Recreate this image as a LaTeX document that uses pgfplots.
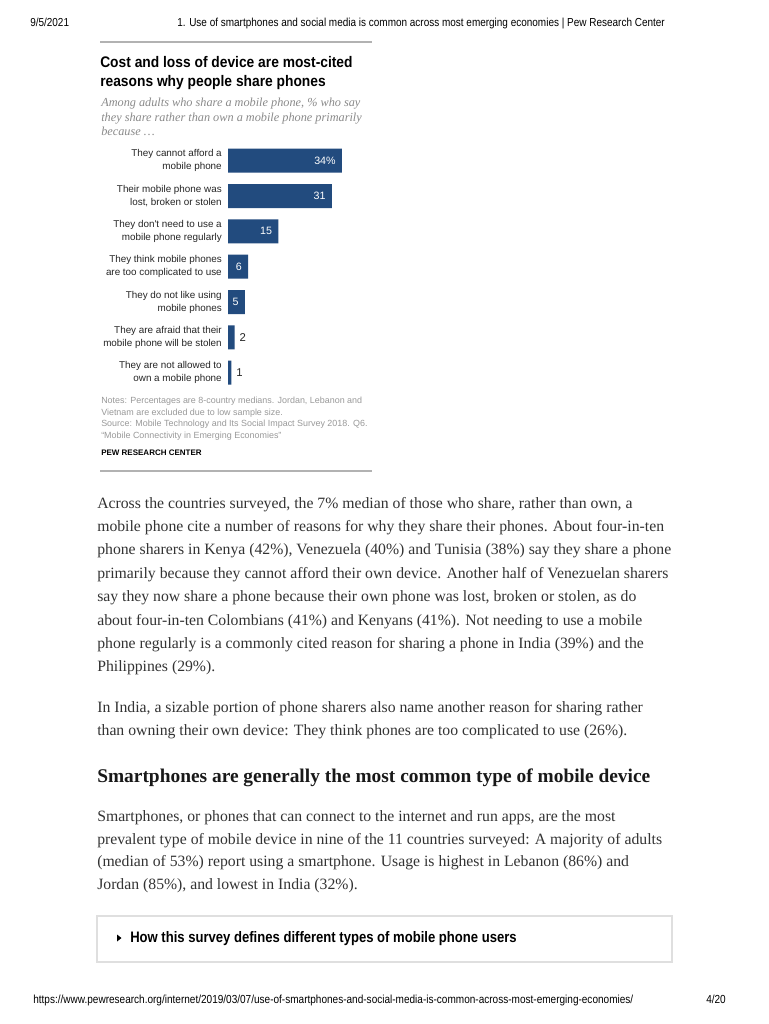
\documentclass[border=0pt]{standalone}
\usepackage{pgfplots}
\pgfplotsset{compat=1.18}
\usepackage{fontspec}
\setmainfont{Liberation Serif}
\newfontfamily\sans{Liberation Sans}
\newfontfamily\sansn[FakeStretch=0.86]{Liberation Sans}
\newfontfamily\sanst[FakeStretch=0.9]{Liberation Sans}
\definecolor{pewblue}{HTML}{224B7E}
\definecolor{bodytext}{HTML}{333333}
\definecolor{subgray}{HTML}{8A8A8A}
\definecolor{notegray}{HTML}{999999}
\newcommand\T[4][]{\node[anchor=base west,inner sep=0pt,#1] at (#2,#3) {#4};}
\begin{document}
\begin{tikzpicture}[x=0.75pt,y=-0.75pt]
\fill[white] (0,0) rectangle (768,1024);
\path[use as bounding box] (0,0) rectangle (768,1024);
% header
\T[font=\sansn\fontsize{8.7}{10}\selectfont]{30}{26.5}{9/5/2021}
\T[font=\sansn\fontsize{8.7}{10}\selectfont]{177}{26.5}{1. Use of smartphones and social media is common across most emerging economies | Pew Research Center}
% rules
\draw[gray!60,line width=0.9pt] (100,42) -- (372,42);
\draw[gray!60,line width=0.9pt] (100,471) -- (372,471);
% chart title
\T[font=\sanst\bfseries\fontsize{11.5}{12}\selectfont]{100}{67.5}{Cost and loss of device are most-cited}
\T[font=\sanst\bfseries\fontsize{11.5}{12}\selectfont]{100}{87}{reasons why people share phones}
\T[font=\itshape\fontsize{9.2}{11}\selectfont,text=subgray]{101}{107}{Among adults who share a mobile phone, \% who say}
\T[font=\itshape\fontsize{9.2}{11}\selectfont,text=subgray]{101}{121}{they share rather than own a mobile phone primarily}
\T[font=\itshape\fontsize{9.2}{11}\selectfont,text=subgray]{101}{135}{because \dots}
% chart
\begin{axis}[at={(171pt,-107.25pt)}, anchor=north west,
  scale only axis, width=113.06pt, height=185.5pt,
  xbar, bar width=18pt, bar shift=0pt,
  xmin=0, xmax=45, ymin=-0.5, ymax=6.5, y dir=reverse,
  axis line style={draw=none}, major tick length=0pt,
  xtick=\empty, ytick={0,1,2,3,4,5,6},
  yticklabels={{They cannot afford a\\mobile phone},{Their mobile phone was\\lost, broken or stolen},{They don't need to use a\\mobile phone regularly},{They think mobile phones\\are too complicated to use},{They do not like using\\mobile phones},{They are afraid that their\\mobile phone will be stolen},{They are not allowed to\\own a mobile phone}},
  yticklabel style={align=right, inner sep=0pt, xshift=-4.5pt, text=black!85, font=\sans\fontsize{7.4}{9.75}\selectfont},
  clip=false, point meta=explicit symbolic, nodes near coords]
\addplot[fill=pewblue, draw=none, nodes near coords style={anchor=east, inner sep=0pt, xshift=-4.5pt, text=white, font=\sans\fontsize{8}{9}\selectfont}]
  coordinates {(34,0) [34\%] (31,1) [31] (15,2) [15] (6,3) [6] (5,4) [5]};
\addplot[fill=pewblue, draw=none, nodes near coords style={anchor=west, inner sep=0pt, xshift=3.5pt, text=black!85, font=\sans\fontsize{8.5}{9}\selectfont}]
  coordinates {(2,5) [2] (1,6) [1]};
\end{axis}
% notes
\T[font=\sans\fontsize{6.7}{7}\selectfont,text=notegray]{101}{403.5}{Notes: Percentages are 8-country medians. Jordan, Lebanon and}
\T[font=\sans\fontsize{6.7}{7}\selectfont,text=notegray]{101}{415}{Vietnam are excluded due to low sample size.}
\T[font=\sans\fontsize{6.7}{7}\selectfont,text=notegray]{101}{426.5}{Source: Mobile Technology and Its Social Impact Survey 2018. Q6.}
\T[font=\sans\fontsize{6.7}{7}\selectfont,text=notegray]{101}{438}{“Mobile Connectivity in Emerging Economies”}
\T[font=\sans\bfseries\fontsize{6}{7}\selectfont]{101}{455}{PEW RESEARCH CENTER}
% body text
\begin{scope}[every node/.style={text=bodytext, font=\fontsize{11.8}{14}\selectfont}]
\T{97}{508}{Across the countries surveyed, the 7\% median of those who share, rather than own, a}
\T{97}{531.4}{mobile phone cite a number of reasons for why they share their phones. About four-in-ten}
\T{97}{554.8}{phone sharers in Kenya (42\%), Venezuela (40\%) and Tunisia (38\%) say they share a phone}
\T{97}{578.2}{primarily because they cannot afford their own device. Another half of Venezuelan sharers}
\T{97}{601.6}{say they now share a phone because their own phone was lost, broken or stolen, as do}
\T{97}{625}{about four-in-ten Colombians (41\%) and Kenyans (41\%). Not needing to use a mobile}
\T{97}{648.4}{phone regularly is a commonly cited reason for sharing a phone in India (39\%) and the}
\T{97}{671.8}{Philippines (29\%).}
\T{97}{712}{In India, a sizable portion of phone sharers also name another reason for sharing rather}
\T{97}{735.3}{than owning their own device: They think phones are too complicated to use (26\%).}
\T{97}{821}{Smartphones, or phones that can connect to the internet and run apps, are the most}
\T{97}{844}{prevalent type of mobile device in nine of the 11 countries surveyed: A majority of adults}
\T{97}{866.5}{(median of 53\%) report using a smartphone. Usage is highest in Lebanon (86\%) and}
\T{97}{889}{Jordan (85\%), and lowest in India (32\%).}
\end{scope}
\T[font=\bfseries\fontsize{14.55}{16}\selectfont,text=black!90]{97}{782}{Smartphones are generally the most common type of mobile device}
% box
\draw[gray!25,line width=0.8pt] (97,916) rectangle (672,962);
\fill (117,934.5) -- (121.5,938) -- (117,941.5) -- cycle;
\T[font=\sansn\bfseries\fontsize{11.4}{12}\selectfont]{130}{942.5}{How this survey defines different types of mobile phone users}
% footer
\T[font=\sansn\fontsize{8.75}{10}\selectfont]{33}{1003.5}{https://www.pewresearch.org/internet/2019/03/07/use-of-smartphones-and-social-media-is-common-across-most-emerging-economies/}
\T[font=\sansn\fontsize{8.75}{10}\selectfont]{706}{1003.5}{4/20}
\end{tikzpicture}
\end{document}
